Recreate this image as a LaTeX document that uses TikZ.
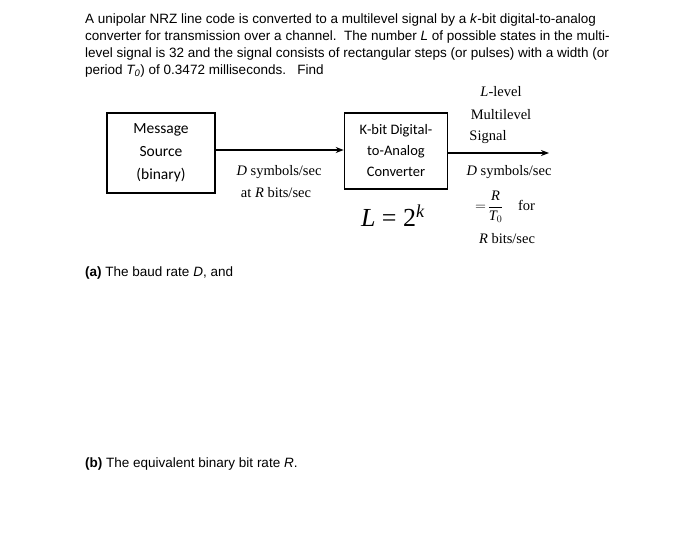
\documentclass[tikz,border=0pt]{standalone}
\usepackage{fontspec}
\setmainfont{Liberation Serif}
\setsansfont{Liberation Sans}
\newfontfamily\carlitofont{Carlito}
\usetikzlibrary{arrows.meta}
\begin{document}
\begin{tikzpicture}[x=1pt,y=-1pt,
  body/.style={anchor=west,inner sep=0,font=\sffamily\fontsize{13.5}{15}\selectfont},
  blk/.style={draw,line width=1.6pt,inner sep=0},
  btxt/.style={align=center,font=\carlitofont\fontsize{15.5}{23}\selectfont},
  lbl/.style={inner sep=0,font=\fontsize{14.5}{16}\selectfont},
  conn/.style={line width=1.3pt,-{Stealth[length=8pt,width=6pt]}}]
\useasboundingbox[fill=white] (0,0) rectangle (700,540);
\node[body] (t1) at (85,20) {A unipolar NRZ line code is converted to a multilevel signal by a \textit{k}-bit digital-to-analog};
\node[body] (t2) at (85,37) {converter for transmission over a channel.\ \ The number \textit{L} of possible states in the multi-};
\node[body] (t3) at (85,54) {level signal is 32 and the signal consists of rectangular steps (or pulses) with a width (or};
\node[body] (t4) at (85,71) {period \textit{T\textsubscript{0}}) of 0.3472 milliseconds.\ \ \ Find};
\node[blk,minimum width=108pt,minimum height=80pt] (b1) at (161,153) {};
\node[btxt] at (b1) {Message\\Source\\(binary)};
\node[blk,minimum width=103pt,minimum height=76pt] (b2) at (396,151) {};
\node[btxt,font=\carlitofont\fontsize{14.5}{21}\selectfont] at (b2) {K-bit Digital-\\to-Analog\\Converter};
\draw[conn] (b1.east|-0,150) -- (b2.west|-0,150);
\coordinate (out) at (549,153);
\draw[conn] (b2.east|-0,153) -- (out);
\node[lbl] (d1) at (279,172) {\textit{D} symbols/sec};
\node[lbl] (d2) at (276,193) {at \textit{R} bits/sec};
\node[lbl] (r1) at (501,92) {\textit{L}-level};
\node[lbl] (r2) at (501,115) {Multilevel};
\node[lbl] (r3) at (488,137) {Signal};
\node[lbl] (r4) at (509,172) {\textit{D} symbols/sec};
\node[lbl] (r5) at (505,207) {$=\!\displaystyle\frac{\textit{R}}{\textit{T}_0}$\quad for};
\node[lbl] (r6) at (507,239) {\textit{R} bits/sec};
\node[inner sep=0,font=\fontsize{26}{28}\selectfont] (eq) at (393,216) {\textit{L} = 2\textsuperscript{\textit{k}}};
\node[body] (qa) at (85,273) {\textbf{(a)} The baud rate \textit{D}, and};
\node[body] (qb) at (85,464) {\textbf{(b)} The equivalent binary bit rate \textit{R}.};
\end{tikzpicture}
\end{document}
